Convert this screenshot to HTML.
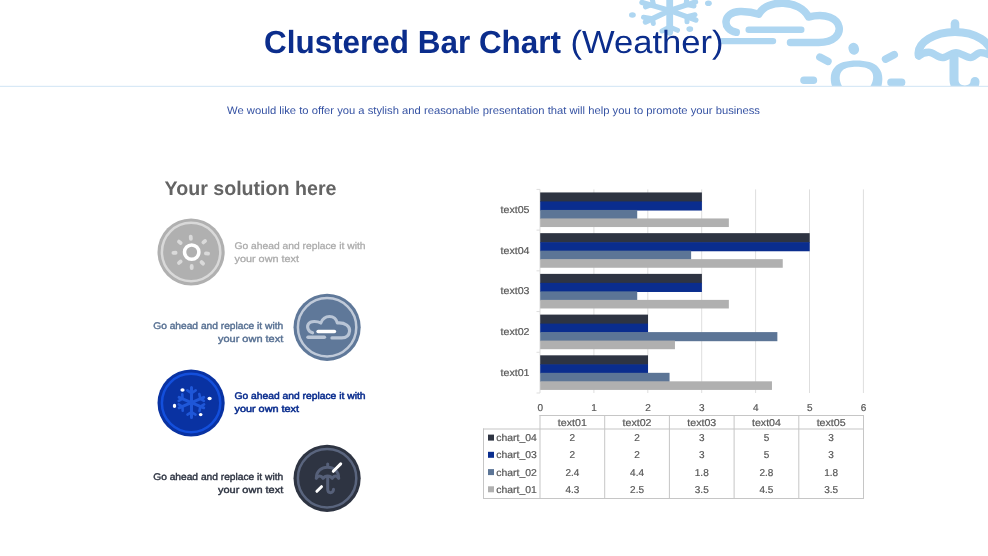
<!DOCTYPE html>
<html lang="en"><head><meta charset="utf-8"><title>Clustered Bar Chart (Weather)</title>
<style>
html,body{margin:0;padding:0;background:#fff;}
body{width:988px;height:556px;overflow:hidden;position:relative;font-family:"Liberation Sans", sans-serif;}
svg{position:absolute;left:0;top:0;display:block;}
text{font-family:"Liberation Sans", sans-serif;text-rendering:geometricPrecision;}
.ct text{stroke:#595959;stroke-width:0.22px;}
</style></head><body>
<svg width="988" height="556" viewBox="0 0 988 556">
<defs><clipPath id="hdr"><rect x="0" y="0" width="988" height="86"/></clipPath></defs>
<g clip-path="url(#hdr)" fill="none" stroke="#aed6f1" stroke-linecap="round" stroke-linejoin="round">
<g stroke-width="5.4">
<path d="M669.7 -6 V32.3" stroke-width="6.8"/>
<path d="M669.7 10.5 L645.5 22 M669.7 10.5 L695.8 20 M669.7 10.5 L642 2.5 M669.7 10.5 L695.5 2"/>
<path d="M652.4 18.7 L643.5 17.3 M652.4 18.7 L653.3 23.5 M687 16.8 L695 14.8 M687 16.8 L687 21.8 M653.3 4 L645.5 6.8 M653.3 4 L652 -2 M686 4.3 L694 6 M686 4.3 L687 -2" stroke-width="5"/>
<path d="M662 31 L669.7 27 L677.5 30.3" stroke-width="5"/>
</g>
<g fill="#aed6f1" stroke="none"><ellipse cx="632.4" cy="15" rx="3.4" ry="2.8"/><ellipse cx="708.4" cy="3.2" rx="3.4" ry="2.8"/><ellipse cx="689.8" cy="29.1" rx="3.4" ry="2.8"/></g>
<g stroke-width="7.5">
<path d="M736.2 32.3 C722 30 722 12 740 11.5 C748 11.3 754 12.5 758.9 14.2 C766 -1 800 -1 808.5 17 C845 8 850 43 818 42.5 L790.5 42.5"/>
<path d="M748.7 29.7 H801.3" stroke-width="6.4"/>
<path d="M722 41.1 H773" stroke-width="6.4"/>
</g>
<path fill-rule="evenodd" d="M832 90 V86 C830 80 830 72 835 67 C841 58.4 872 58.4 878 67 C883 72 883 80 881.5 86 V90 Z M842 90 V86 C838.5 80 839 73 843 70 C847 65.5 866 65.5 870 70 C874 73 874.3 80 870.5 86 V90 Z" fill="#aed6f1" stroke="none"/>
<g stroke-width="7.6">
<path d="M853.5 47.9 L854 49.6" stroke-width="10.3"/>
<path d="M819.9 57.2 L827.9 61.4 M885.6 59.1 L894.2 54.7 M804 80.3 H813.4 M891 82.4 H901.6"/>
</g>
<g stroke-width="8">
<path d="M955 23.5 V30" stroke-width="8.6"/>
<path d="M918.6 55 C917 42 935 32 955 32 C975 32 992 42 992 56"/>
<path d="M918.8 56 C922 53 925 52.3 928.8 52.3 C933.5 52.3 937.5 57.6 942.4 57.6 C947 57.6 951 52.6 956 52.6 C961 52.6 965.5 57.6 970.5 57.6 C974 57.6 977 52.6 980.6 52.6 C985 52.6 989 54.5 992 56" stroke-width="7.4"/>
<path d="M954 57 V80 C954 93 975 93 975 81.5" stroke-width="9"/>
</g>
</g>
<rect x="0" y="85.8" width="988" height="1.1" fill="#d4e7f6"/>
<text x="264" y="53" font-size="32" font-weight="700" fill="#0b2d8c" textLength="297" lengthAdjust="spacingAndGlyphs">Clustered Bar Chart</text>
<text x="570.5" y="53" font-size="32" fill="#0b2d8c" textLength="153" lengthAdjust="spacingAndGlyphs">(Weather)</text>
<text x="227" y="113.7" font-size="10.8" fill="#3552a3" textLength="533" lengthAdjust="spacingAndGlyphs">We would like to offer you a stylish and reasonable presentation that will help you to promote your business</text>
<text x="164.5" y="195" font-size="19.8" font-weight="700" fill="#646464" textLength="172" lengthAdjust="spacingAndGlyphs">Your solution here</text>
<circle cx="191.1" cy="252.0" r="33.6" fill="#b0b0b0"/>
<circle cx="191.1" cy="252.0" r="29.2" fill="none" stroke="#d9d9d9" stroke-width="2.5"/>
<g font-size="9.7" fill="#ababab" stroke="#ababab" stroke-width="0.28" text-anchor="start">
<text x="234.5" y="248.8" textLength="131" lengthAdjust="spacingAndGlyphs">Go ahead and replace it with</text>
<text x="234.5" y="261.8" textLength="64.5" lengthAdjust="spacingAndGlyphs">your own text</text>
</g>
<circle cx="327.1" cy="327.3" r="33.6" fill="#5f7899"/>
<circle cx="327.1" cy="327.3" r="29.2" fill="none" stroke="#c0cad9" stroke-width="2.5"/>
<g font-size="9.7" fill="#587193" stroke="#587193" stroke-width="0.4" text-anchor="end">
<text x="283.2" y="328.7" textLength="130" lengthAdjust="spacingAndGlyphs">Go ahead and replace it with</text>
<text x="283.2" y="341.7" textLength="65.2" lengthAdjust="spacingAndGlyphs">your own text</text>
</g>
<circle cx="191.1" cy="403.0" r="33.6" fill="#0932a2"/>
<circle cx="191.1" cy="403.0" r="29.2" fill="none" stroke="#134fdc" stroke-width="2.5"/>
<g font-size="9.7" fill="#0a2d8e" stroke="#0a2d8e" stroke-width="0.5" text-anchor="start">
<text x="234.5" y="399.1" textLength="131" lengthAdjust="spacingAndGlyphs">Go ahead and replace it with</text>
<text x="234.5" y="412.4" textLength="64.5" lengthAdjust="spacingAndGlyphs">your own text</text>
</g>
<circle cx="327.1" cy="478.3" r="33.6" fill="#2e3442"/>
<circle cx="327.1" cy="478.3" r="29.2" fill="none" stroke="#5a657e" stroke-width="2.5"/>
<g font-size="9.7" fill="#2e3442" stroke="#2e3442" stroke-width="0.4" text-anchor="end">
<text x="283.2" y="479.5" textLength="130" lengthAdjust="spacingAndGlyphs">Go ahead and replace it with</text>
<text x="283.2" y="492.6" textLength="65.2" lengthAdjust="spacingAndGlyphs">your own text</text>
</g>
<g fill="none" stroke-linecap="round">
<circle cx="191.7" cy="252.1" r="7.2" stroke="#fff" stroke-width="3.5"/>
<line x1="190.87" y1="238.80" x2="190.73" y2="236.60" stroke="#dadada" stroke-width="3.8"/>
<line x1="203.35" y1="242.40" x2="205.05" y2="241.00" stroke="#dadada" stroke-width="3.8"/>
<line x1="205.90" y1="253.40" x2="208.10" y2="253.60" stroke="#dadada" stroke-width="3.8"/>
<line x1="201.53" y1="262.11" x2="203.07" y2="263.69" stroke="#dadada" stroke-width="3.8"/>
<line x1="191.70" y1="265.90" x2="191.70" y2="268.10" stroke="#dadada" stroke-width="3.8"/>
<line x1="180.64" y1="261.49" x2="178.96" y2="262.91" stroke="#dadada" stroke-width="3.8"/>
<line x1="175.60" y1="252.76" x2="173.40" y2="252.84" stroke="#dadada" stroke-width="3.8"/>
<line x1="180.65" y1="243.00" x2="178.95" y2="241.60" stroke="#dadada" stroke-width="3.8"/>
</g>
<g fill="none" stroke-linecap="round" stroke-linejoin="round" transform="translate(327.1 327.3)">
<path d="M-14.5 5.5 C-19.5 4 -20.5 -1 -18.5 -3.6 C-16.5 -6.5 -10 -6.5 -6.3 -4.3 C-3 -13 8 -13 10.3 -4.3 C18 -5 23 -1 22.5 3.5 C22 9 18 10.6 14.6 10.6 L4.8 10.6" stroke="#b9c5d6" stroke-width="3.1"/>
<path d="M-9.0 4.2 H7.3" stroke="#fff" stroke-width="3.6"/>
<path d="M-19.1 9.9 H-2.7" stroke="#b9c5d6" stroke-width="3.5"/>
</g>
<g fill="none" stroke="#1f57d8" stroke-width="3" stroke-linecap="round" stroke-linejoin="round" transform="translate(191.5 402.6)">
<path d="M0 -15 V15 M-12.4 -5.2 L12.2 5.2 M-12.4 5.2 L12.2 -5.2"/>
<path d="M-4.2 -12.3 L0 -9.5 L4.2 -12.3 M-4 12 L0 9.5 L4 12 M-12.8 -1.8 L-9 -4 L-9.2 -8.2 M12.4 -1.8 L8.8 -4 L7.8 -8.6 M-12.8 1.8 L-9 4 L-8.8 8.2 M12.6 1.8 L8.8 4 L8 8.4" stroke-width="2.6"/>
</g>
<g fill="#fff"><ellipse cx="182.5" cy="390.0" rx="2.1" ry="1.7"/><ellipse cx="209.6" cy="398.5" rx="2.1" ry="1.7"/><ellipse cx="174.5" cy="405.9" rx="1.7" ry="2.1"/><ellipse cx="200.7" cy="414.6" rx="1.8" ry="1.7"/></g>
<g fill="none" stroke-linecap="round" stroke-linejoin="round" transform="translate(327.1 478.3)">
<path d="M0.6 -14.2 V-11.5 M-10.8 0 C-10.8 -14.8 11.6 -14.8 11.6 0 M-10.8 0 C-8.8 -3 -6 -3 -4 0 C-2 -3 3.2 -3 5.2 0 C7 -3 9.6 -3 11.6 0 M0.6 -1 V11 C0.6 15.5 6.4 15.5 6.4 11" stroke="#566079" stroke-width="3"/>
<path d="M6.2 -7 L13.6 -14.4 M-10.2 13 L-5.6 8.4" stroke="#fff" stroke-width="3"/>
</g>
<g class="ct">
<rect x="539.50" y="189.4" width="1" height="203.6" fill="#dedede"/>
<rect x="593.40" y="189.4" width="1" height="203.6" fill="#dedede"/>
<rect x="647.30" y="189.4" width="1" height="203.6" fill="#dedede"/>
<rect x="701.20" y="189.4" width="1" height="203.6" fill="#dedede"/>
<rect x="755.10" y="189.4" width="1" height="203.6" fill="#dedede"/>
<rect x="809.00" y="189.4" width="1" height="203.6" fill="#dedede"/>
<rect x="862.90" y="189.4" width="1" height="203.6" fill="#dedede"/>
<rect x="536.5" y="188.90" width="3.5" height="1" fill="#dedede"/>
<rect x="536.5" y="229.62" width="3.5" height="1" fill="#dedede"/>
<rect x="536.5" y="270.34" width="3.5" height="1" fill="#dedede"/>
<rect x="536.5" y="311.06" width="3.5" height="1" fill="#dedede"/>
<rect x="536.5" y="351.78" width="3.5" height="1" fill="#dedede"/>
<rect x="536.5" y="392.50" width="3.5" height="1" fill="#dedede"/>
<rect x="540.2" y="192.44" width="161.70" height="9.60" fill="#2e3442"/>
<rect x="540.2" y="201.44" width="161.70" height="9.10" fill="#0a2d8e"/>
<rect x="540.2" y="209.94" width="97.02" height="9.10" fill="#5c7596"/>
<rect x="540.2" y="218.44" width="188.65" height="8.60" fill="#b0b0b0"/>
<text x="529.5" y="213" font-size="10" fill="#595959" text-anchor="end" textLength="29" lengthAdjust="spacingAndGlyphs">text05</text>
<rect x="540.2" y="233.16" width="269.50" height="9.60" fill="#2e3442"/>
<rect x="540.2" y="242.16" width="269.50" height="9.10" fill="#0a2d8e"/>
<rect x="540.2" y="250.66" width="150.92" height="9.10" fill="#5c7596"/>
<rect x="540.2" y="259.16" width="242.55" height="8.60" fill="#b0b0b0"/>
<text x="529.5" y="254" font-size="10" fill="#595959" text-anchor="end" textLength="29" lengthAdjust="spacingAndGlyphs">text04</text>
<rect x="540.2" y="273.88" width="161.70" height="9.60" fill="#2e3442"/>
<rect x="540.2" y="282.88" width="161.70" height="9.10" fill="#0a2d8e"/>
<rect x="540.2" y="291.38" width="97.02" height="9.10" fill="#5c7596"/>
<rect x="540.2" y="299.88" width="188.65" height="8.60" fill="#b0b0b0"/>
<text x="529.5" y="294" font-size="10" fill="#595959" text-anchor="end" textLength="29" lengthAdjust="spacingAndGlyphs">text03</text>
<rect x="540.2" y="314.60" width="107.80" height="9.60" fill="#2e3442"/>
<rect x="540.2" y="323.60" width="107.80" height="9.10" fill="#0a2d8e"/>
<rect x="540.2" y="332.10" width="237.16" height="9.10" fill="#5c7596"/>
<rect x="540.2" y="340.60" width="134.75" height="8.60" fill="#b0b0b0"/>
<text x="529.5" y="335" font-size="10" fill="#595959" text-anchor="end" textLength="29" lengthAdjust="spacingAndGlyphs">text02</text>
<rect x="540.2" y="355.32" width="107.80" height="9.60" fill="#2e3442"/>
<rect x="540.2" y="364.32" width="107.80" height="9.10" fill="#0a2d8e"/>
<rect x="540.2" y="372.82" width="129.36" height="9.10" fill="#5c7596"/>
<rect x="540.2" y="381.32" width="231.77" height="8.60" fill="#b0b0b0"/>
<text x="529.5" y="376" font-size="10" fill="#595959" text-anchor="end" textLength="29" lengthAdjust="spacingAndGlyphs">text01</text>
<text x="540.20" y="410.8" font-size="10" fill="#595959" text-anchor="middle">0</text>
<text x="594.10" y="410.8" font-size="10" fill="#595959" text-anchor="middle">1</text>
<text x="648.00" y="410.8" font-size="10" fill="#595959" text-anchor="middle">2</text>
<text x="701.90" y="410.8" font-size="10" fill="#595959" text-anchor="middle">3</text>
<text x="755.80" y="410.8" font-size="10" fill="#595959" text-anchor="middle">4</text>
<text x="809.70" y="410.8" font-size="10" fill="#595959" text-anchor="middle">5</text>
<text x="863.60" y="410.8" font-size="10" fill="#595959" text-anchor="middle">6</text>
<rect x="539.5" y="415.0" width="324.5" height="1" fill="#c6c6c6"/>
<rect x="483.0" y="428.5" width="381.0" height="1" fill="#c6c6c6"/>
<rect x="483.0" y="498.0" width="381.0" height="1" fill="#c6c6c6"/>
<rect x="483.0" y="428.5" width="1" height="70.5" fill="#c6c6c6"/>
<rect x="539.5" y="415.0" width="1" height="84.0" fill="#c6c6c6"/>
<rect x="604.2" y="415.0" width="1" height="84.0" fill="#c6c6c6"/>
<rect x="668.9" y="415.0" width="1" height="84.0" fill="#c6c6c6"/>
<rect x="733.6" y="415.0" width="1" height="84.0" fill="#c6c6c6"/>
<rect x="798.3" y="415.0" width="1" height="84.0" fill="#c6c6c6"/>
<rect x="863.0" y="415.0" width="1" height="84.0" fill="#c6c6c6"/>
<text x="572.35" y="425.7" font-size="10" fill="#595959" text-anchor="middle" textLength="29" lengthAdjust="spacingAndGlyphs">text01</text>
<text x="637.05" y="425.7" font-size="10" fill="#595959" text-anchor="middle" textLength="29" lengthAdjust="spacingAndGlyphs">text02</text>
<text x="701.75" y="425.7" font-size="10" fill="#595959" text-anchor="middle" textLength="29" lengthAdjust="spacingAndGlyphs">text03</text>
<text x="766.45" y="425.7" font-size="10" fill="#595959" text-anchor="middle" textLength="29" lengthAdjust="spacingAndGlyphs">text04</text>
<text x="831.15" y="425.7" font-size="10" fill="#595959" text-anchor="middle" textLength="29" lengthAdjust="spacingAndGlyphs">text05</text>
<rect x="488" y="434.6" width="6" height="6" fill="#2e3442"/>
<text x="496.3" y="441.2" font-size="10" fill="#595959" textLength="40.5" lengthAdjust="spacingAndGlyphs">chart_04</text>
<text x="572.35" y="441.2" font-size="10" fill="#595959" text-anchor="middle">2</text>
<text x="637.05" y="441.2" font-size="10" fill="#595959" text-anchor="middle">2</text>
<text x="701.75" y="441.2" font-size="10" fill="#595959" text-anchor="middle">3</text>
<text x="766.45" y="441.2" font-size="10" fill="#595959" text-anchor="middle">5</text>
<text x="831.15" y="441.2" font-size="10" fill="#595959" text-anchor="middle">3</text>
<rect x="488" y="451.8" width="6" height="6" fill="#0a2d8e"/>
<text x="496.3" y="458.4" font-size="10" fill="#595959" textLength="40.5" lengthAdjust="spacingAndGlyphs">chart_03</text>
<text x="572.35" y="458.4" font-size="10" fill="#595959" text-anchor="middle">2</text>
<text x="637.05" y="458.4" font-size="10" fill="#595959" text-anchor="middle">2</text>
<text x="701.75" y="458.4" font-size="10" fill="#595959" text-anchor="middle">3</text>
<text x="766.45" y="458.4" font-size="10" fill="#595959" text-anchor="middle">5</text>
<text x="831.15" y="458.4" font-size="10" fill="#595959" text-anchor="middle">3</text>
<rect x="488" y="469.1" width="6" height="6" fill="#5c7596"/>
<text x="496.3" y="475.7" font-size="10" fill="#595959" textLength="40.5" lengthAdjust="spacingAndGlyphs">chart_02</text>
<text x="572.35" y="475.7" font-size="10" fill="#595959" text-anchor="middle">2.4</text>
<text x="637.05" y="475.7" font-size="10" fill="#595959" text-anchor="middle">4.4</text>
<text x="701.75" y="475.7" font-size="10" fill="#595959" text-anchor="middle">1.8</text>
<text x="766.45" y="475.7" font-size="10" fill="#595959" text-anchor="middle">2.8</text>
<text x="831.15" y="475.7" font-size="10" fill="#595959" text-anchor="middle">1.8</text>
<rect x="488" y="486.3" width="6" height="6" fill="#b0b0b0"/>
<text x="496.3" y="492.9" font-size="10" fill="#595959" textLength="40.5" lengthAdjust="spacingAndGlyphs">chart_01</text>
<text x="572.35" y="492.9" font-size="10" fill="#595959" text-anchor="middle">4.3</text>
<text x="637.05" y="492.9" font-size="10" fill="#595959" text-anchor="middle">2.5</text>
<text x="701.75" y="492.9" font-size="10" fill="#595959" text-anchor="middle">3.5</text>
<text x="766.45" y="492.9" font-size="10" fill="#595959" text-anchor="middle">4.5</text>
<text x="831.15" y="492.9" font-size="10" fill="#595959" text-anchor="middle">3.5</text>
</g>
</svg>
</body></html>
